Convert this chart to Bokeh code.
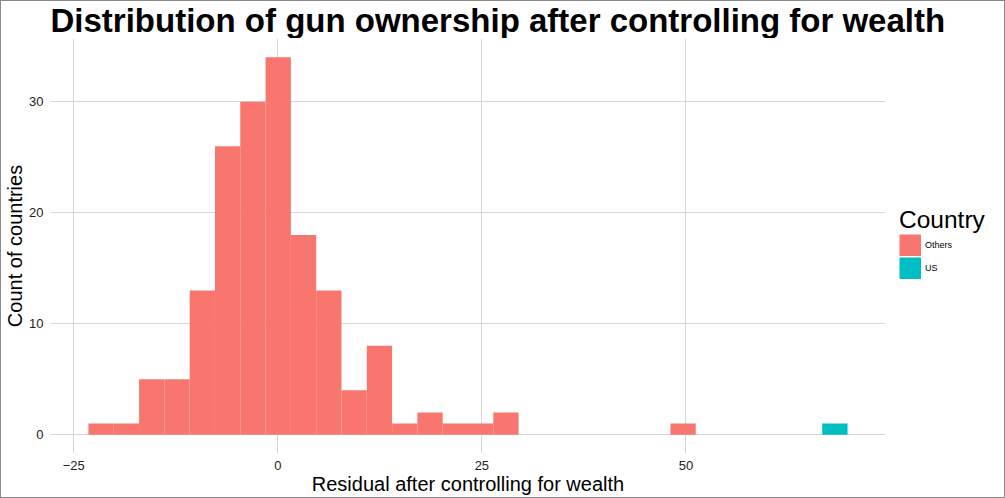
from bokeh.plotting import figure
from bokeh.layouts import column, row
from bokeh.models import Range1d, FixedTicker, Legend, LegendItem, Label
from bokeh.embed import file_html
from bokeh.resources import INLINE

# Histogram bins (left edges plus final right edge), width 3.1
bin_edges = [-23.2, -20.1, -17.0, -13.9, -10.8, -7.7, -4.6, -1.5, 1.6, 4.7,
             7.8, 10.9, 14.0, 17.1, 20.2, 23.3, 26.4, 29.5, 32.6, 35.7,
             38.8, 41.9, 45.0, 48.1, 51.2, 54.3, 57.4, 60.5, 63.6, 66.7, 69.8]

# Counts of countries per bin
others_counts = [1, 1, 5, 5, 13, 26, 30, 34, 18, 13,
                 4, 8, 1, 2, 1, 1, 2, 0, 0, 0,
                 0, 0, 0, 1, 0, 0, 0, 0, 0, 0]
us_counts = [0, 0, 0, 0, 0, 0, 0, 0, 0, 0,
             0, 0, 0, 0, 0, 0, 0, 0, 0, 0,
             0, 0, 0, 0, 0, 0, 0, 0, 0, 1]

groups = ["Others", "US"]
colors = ["#F8766D", "#00BFC4"]

x_ticks = [-25, 0, 25, 50]
y_ticks = [0, 10, 20, 30]

title_text = "Distribution of gun ownership after controlling for wealth"

FONT = "Liberation Sans"


def bare_figure(width, height, y_range=(0, 1)):
    f = figure(width=width, height=height, output_backend="svg", toolbar_location=None,
               x_range=Range1d(-27.85, 74.45), y_range=Range1d(*y_range),
               min_border_left=0, min_border_right=0, min_border_top=0,
               min_border_bottom=0)
    f.axis.visible = False
    f.grid.visible = False
    f.outline_line_color = None
    f.background_fill_color = "#ffffff"
    f.border_fill_color = "#ffffff"
    return f


def bars(counts):
    lefts = [bin_edges[i] for i, c in enumerate(counts) if c > 0]
    rights = [bin_edges[i + 1] for i, c in enumerate(counts) if c > 0]
    tops = [c for c in counts if c > 0]
    return lefts, rights, tops


# --- title strip ---
title_fig = bare_figure(1003, 37)
title_fig.add_layout(Label(x=49, y=18, x_units="screen", y_units="screen", text=title_text,
                           text_font=FONT, text_font_size="33px", text_font_style="bold",
                           text_color="#000000", text_align="left",
                           text_baseline="alphabetic"))

# --- histogram ---
p = figure(width=884, height=459, output_backend="svg", toolbar_location=None,
           x_range=Range1d(-27.85, 74.45), y_range=Range1d(-1.7, 35.7),
           min_border_left=49, min_border_right=0, min_border_top=0,
           min_border_bottom=43)

for name, counts, color in zip(groups, [others_counts, us_counts], colors):
    lefts, rights, tops = bars(counts)
    p.quad(left=lefts, right=rights, bottom=0, top=tops,
           fill_color=color, line_color=None)

for ax in (p.xaxis, p.yaxis):
    ax.axis_line_color = None
    ax.major_tick_line_color = None
    ax.minor_tick_line_color = None
    ax.major_tick_out = 0
    ax.major_tick_in = 0
    ax.minor_tick_out = 0
    ax.major_label_text_font = FONT
    ax.major_label_text_font_size = "13px"
    ax.major_label_text_color = "#222222"
    ax.axis_label_text_font = FONT
    ax.axis_label_text_font_size = "20px"
    ax.axis_label_text_font_style = "normal"
    ax.axis_label_text_color = "#000000"

p.xaxis.ticker = FixedTicker(ticks=x_ticks)
p.yaxis.ticker = FixedTicker(ticks=y_ticks)
p.xaxis.axis_label = "Residual after controlling for wealth"
p.yaxis.axis_label = "Count of countries"
p.xaxis.major_label_standoff = 7
p.yaxis.major_label_standoff = 7
p.xaxis.axis_label_standoff = 0
p.yaxis.axis_label_standoff = 0

p.xgrid.ticker = FixedTicker(ticks=x_ticks)
p.ygrid.ticker = FixedTicker(ticks=y_ticks)
p.grid.grid_line_color = "#d6d6d6"
p.grid.grid_line_width = 1
p.outline_line_color = None
p.background_fill_color = "#ffffff"
p.border_fill_color = "#ffffff"

# --- legend panel: thick bar-top segments below the visible y range give
# full-size square keys (only the key is shown) ---
legend_fig = bare_figure(119, 459, y_range=(100, 101))
swatches = []
for name, counts, color in zip(groups, [others_counts, us_counts], colors):
    lefts, rights, tops = bars(counts)
    r = legend_fig.segment(x0=lefts, x1=rights, y0=tops, y1=tops,
                           line_color=color, line_width=22, line_cap="butt")
    swatches.append(LegendItem(label=name, renderers=[r]))

legend = Legend(items=swatches, title="Country", location=(14, 174))
legend.title_text_font = FONT
legend.title_text_font_size = "24.5px"
legend.title_text_font_style = "normal"
legend.title_text_color = "#000000"
legend.title_standoff = 0
legend.label_text_font = FONT
legend.label_text_font_size = "9px"
legend.label_text_color = "#000000"
legend.glyph_width = 22
legend.glyph_height = 22
legend.label_standoff = 4
legend.spacing = 1
legend.padding = 0
legend.margin = 0
legend.border_line_color = None
legend.background_fill_alpha = 0
legend_fig.add_layout(legend)

layout = column(title_fig, row(p, legend_fig, spacing=0), spacing=0,
                styles={"border": "1px solid #8a8a8a", "background": "#ffffff"})

open("out.html", "w").write(file_html(layout, INLINE))
